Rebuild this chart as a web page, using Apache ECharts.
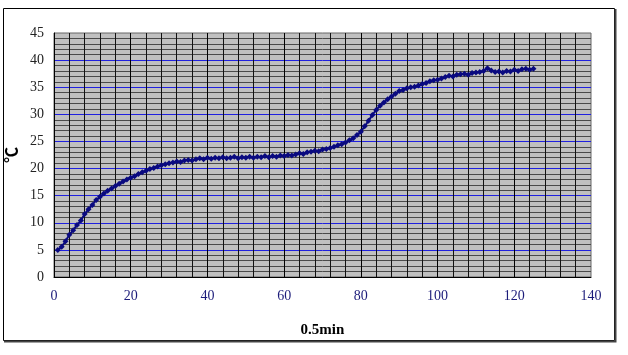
<!DOCTYPE html>
<html>
<head>
<meta charset="utf-8">
<script src="https://cdn.jsdelivr.net/npm/echarts@6/dist/echarts.min.js"></script>
<style>
    html, body { margin: 0; padding: 0; background: #fff; }
    #chart { width: 628px; height: 355px; }
</style>
</head>
<body>
<div id="chart"></div>
<script>
// 0.5min 步长的时间序号
const timeIdx = []
for (let i = 1; i <= 125; i++) timeIdx.push(i)
// 温度读数 (℃), 从图上逐点估读
const tempVals = [
    5.0, 5.6, 6.6, 7.8, 8.6, 9.6, 10.4, 11.6, 12.5, 13.3,
    14.2, 14.8, 15.4, 15.9, 16.3, 16.8, 17.2, 17.6, 18.0, 18.3,
    18.6, 19.0, 19.3, 19.6, 19.9, 20.1, 20.4, 20.6, 20.8, 21.0,
    21.1, 21.3, 21.2, 21.5, 21.6, 21.5, 21.7, 21.9, 21.7, 22.0,
    21.8, 22.0, 21.9, 22.1, 21.9, 22.0, 22.2, 21.9, 22.1, 22.0,
    22.2, 22.0, 22.2, 22.1, 22.3, 22.1, 22.3, 22.2, 22.4, 22.3,
    22.5, 22.4, 22.6, 22.8, 22.7, 23.0, 23.1, 23.3, 23.2, 23.5,
    23.6, 23.8, 24.0, 24.3, 24.5, 24.8, 25.2, 25.6, 26.2, 26.8,
    27.8, 28.8, 29.9, 30.8, 31.6, 32.2, 32.8, 33.3, 33.8, 34.3,
    34.5, 34.8, 35.0, 35.1, 35.3, 35.6, 35.8, 36.1, 36.3, 36.4,
    36.6, 36.9, 37.1, 37.0, 37.3, 37.4, 37.5, 37.3, 37.6, 37.7,
    37.8, 38.0, 38.5, 38.1, 37.8, 37.9, 37.7, 38.0, 37.9, 38.2,
    38.0, 38.3, 38.4, 38.2, 38.4
]
const xTicks = { min: 0, max: 140, step: 20 }
const yTicks = { min: 0, max: 45, step: 5 }

const seriesData = timeIdx.map((t, i) => [t, tempVals[i]])

const myChart = echarts.init(document.getElementById('chart'))
const option = {
    animation: false,
    graphic: [
        {
            type: 'rect',
            shape: { x: 3.5, y: 8.5, width: 611, height: 332 },
            style: { fill: 'none', stroke: '#000', lineWidth: 1 },
            z: -1
        },
        {
            // 右下阴影
            type: 'polyline',
            shape: { points: [[615.5, 9], [615.5, 341.5], [4, 341.5]] },
            style: { fill: 'none', stroke: '#444', lineWidth: 2 },
            z: -1
        }
    ],
    grid: {
        left: 54,
        top: 33,
        width: 537,
        height: 244,
        outerBoundsMode: 'none',
        containLabel: false,
        show: true,
        backgroundColor: '#c0c0c0',
        borderColor: '#666',
        borderWidth: 1
    },
    xAxis: {
        type: 'value',
        min: xTicks.min,
        max: xTicks.max,
        interval: xTicks.step,
        name: '0.5min',
        nameLocation: 'middle',
        nameGap: 46,
        nameTextStyle: {
            fontFamily: 'Liberation Serif',
            fontWeight: 'bold',
            fontSize: 15,
            color: '#000'
        },
        axisLine: { show: true, lineStyle: { color: '#000', width: 1 } },
        axisTick: { show: false },
        axisLabel: {
            margin: 12,
            fontFamily: 'Liberation Serif',
            fontSize: 14,
            color: '#1c1c7a'
        },
        splitLine: { show: true, showMaxLine: false, lineStyle: { color: '#000', width: 1 } },
        minorTick: { show: false, splitNumber: 5 },
        minorSplitLine: { show: true, lineStyle: { color: '#111', width: 1 } }
    },
    yAxis: {
        type: 'value',
        min: yTicks.min,
        max: yTicks.max,
        interval: yTicks.step,
        name: '℃',
        nameLocation: 'middle',
        nameGap: 32,
        nameRotate: 90,
        nameTextStyle: {
            fontFamily: 'Noto Sans CJK SC',
            fontWeight: 'bold',
            fontSize: 16,
            color: '#000'
        },
        axisLine: { show: true, lineStyle: { color: '#000', width: 1 } },
        axisTick: { show: false },
        axisLabel: {
            margin: 10,
            fontFamily: 'Liberation Serif',
            fontSize: 14,
            color: '#222'
        },
        splitLine: { show: true, showMaxLine: false, lineStyle: { color: '#2020e0', width: 1 } },
        minorTick: { show: false, splitNumber: 5 },
        minorSplitLine: { show: true, lineStyle: { color: '#4a4a4a', width: 1 } }
    },
    series: [
        {
            name: '温度',
            type: 'line',
            data: seriesData,
            symbol: 'diamond',
            symbolSize: 6,
            itemStyle: { color: '#0a0a80' },
            lineStyle: { color: '#0a0a80', width: 2 },
            z: 5
        }
    ]
}
myChart.setOption(option)
</script>
</body>
</html>
